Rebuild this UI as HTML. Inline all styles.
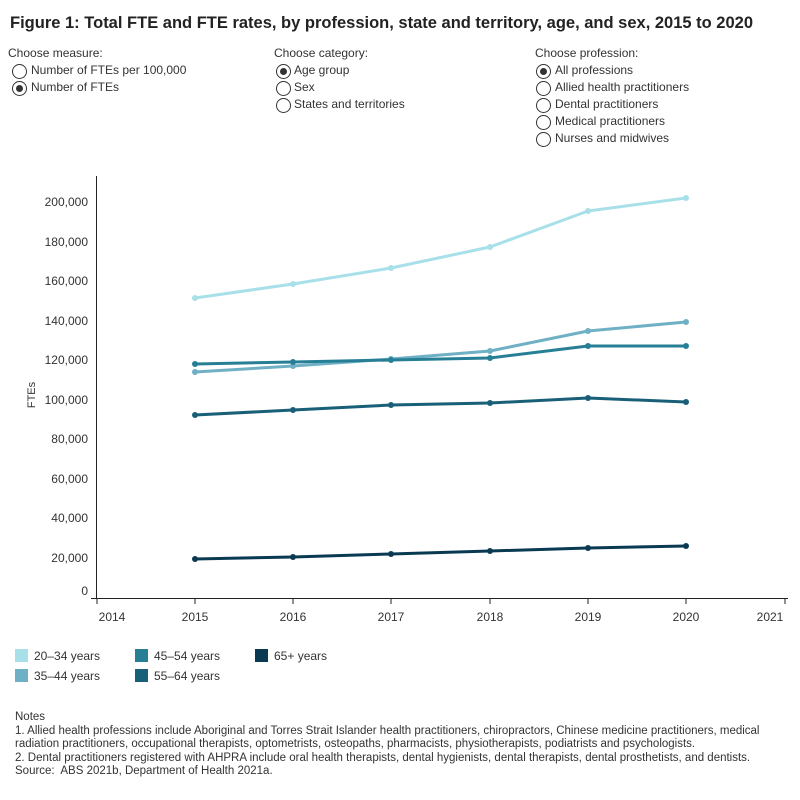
<!DOCTYPE html><html><head><style>
body{margin:0;width:800px;height:800px;background:#fff;font-family:"Liberation Sans",sans-serif;color:#333;position:relative;overflow:hidden}
.t{position:absolute;white-space:nowrap}
.r{position:absolute;width:15px;height:15px;border:1px solid #333;border-radius:50%;box-sizing:border-box;background:#fff}
.r.on::after{content:"";position:absolute;left:3px;top:3px;width:7px;height:7px;border-radius:50%;background:#333}
.s{position:absolute;width:13px;height:13px}
</style></head><body>
<div class="t" style="left:10px;top:14px;font-size:16.5px;font-weight:bold;color:#222">Figure 1: Total FTE and FTE rates, by profession, state and territory, age, and sex, 2015 to 2020</div>
<div class="t" style="left:8px;top:46px;font-size:12px">Choose measure:</div>
<div class="r" style="left:12px;top:64px"></div><div class="t" style="left:31px;top:63px;font-size:12px">Number of FTEs per 100,000</div>
<div class="r on" style="left:12px;top:81px"></div><div class="t" style="left:31px;top:80px;font-size:12px">Number of FTEs</div>
<div class="t" style="left:274px;top:46px;font-size:12px">Choose category:</div>
<div class="r on" style="left:276px;top:64px"></div><div class="t" style="left:294px;top:63px;font-size:12px">Age group</div>
<div class="r" style="left:276px;top:81px"></div><div class="t" style="left:294px;top:80px;font-size:12px">Sex</div>
<div class="r" style="left:276px;top:98px"></div><div class="t" style="left:294px;top:97px;font-size:12px">States and territories</div>
<div class="t" style="left:535px;top:46px;font-size:12px">Choose profession:</div>
<div class="r on" style="left:536px;top:64px"></div><div class="t" style="left:555px;top:63px;font-size:12px">All professions</div>
<div class="r" style="left:536px;top:81px"></div><div class="t" style="left:555px;top:80px;font-size:12px">Allied health practitioners</div>
<div class="r" style="left:536px;top:98px"></div><div class="t" style="left:555px;top:97px;font-size:12px">Dental practitioners</div>
<div class="r" style="left:536px;top:115px"></div><div class="t" style="left:555px;top:114px;font-size:12px">Medical practitioners</div>
<div class="r" style="left:536px;top:132px"></div><div class="t" style="left:555px;top:131px;font-size:12px">Nurses and midwives</div>
<svg width="800" height="800" style="position:absolute;left:0;top:0" font-family="Liberation Sans,sans-serif" font-size="12" fill="#333">
<g text-anchor="end">
<text x="88" y="595">0</text><text x="88" y="562">20,000</text><text x="88" y="522">40,000</text><text x="88" y="483">60,000</text><text x="88" y="443">80,000</text><text x="88" y="404">100,000</text><text x="88" y="364">120,000</text><text x="88" y="325">140,000</text><text x="88" y="285">160,000</text><text x="88" y="246">180,000</text><text x="88" y="206">200,000</text>
</g>
<text transform="translate(35,395) rotate(-90)" text-anchor="middle" font-size="11">FTEs</text>
<line x1="96.5" y1="176" x2="96.5" y2="598" stroke="#222"/>
<line x1="91" y1="598.5" x2="788" y2="598.5" stroke="#222"/>
<g stroke="#222"><line x1="97" y1="598" x2="97" y2="604"/><line x1="195" y1="598" x2="195" y2="604"/><line x1="293" y1="598" x2="293" y2="604"/><line x1="391" y1="598" x2="391" y2="604"/><line x1="490" y1="598" x2="490" y2="604"/><line x1="588" y1="598" x2="588" y2="604"/><line x1="686" y1="598" x2="686" y2="604"/><line x1="785" y1="598" x2="785" y2="604"/></g>
<g text-anchor="middle"><text x="112" y="621">2014</text><text x="195" y="621">2015</text><text x="293" y="621">2016</text><text x="391" y="621">2017</text><text x="490" y="621">2018</text><text x="588" y="621">2019</text><text x="686" y="621">2020</text><text x="770" y="621">2021</text></g>
<g fill="none" stroke-width="3" stroke-linejoin="round">
<polyline stroke="#a8e0ea" points="195,298 293,284 391,268 490,247 588,211 686,198"/>
<polyline stroke="#6fb0c4" points="195,372 293,366 391,359 490,351 588,331 686,322"/>
<polyline stroke="#277f96" points="195,364 293,362 391,360 490,358 588,346 686,346"/>
<polyline stroke="#1a5f78" points="195,415 293,410 391,405 490,403 588,398 686,402"/>
<polyline stroke="#0a3a52" points="195,559 293,557 391,554 490,551 588,548 686,546"/>
</g>
<g fill="#a8e0ea"><circle cx="195" cy="298" r="3"/><circle cx="293" cy="284" r="3"/><circle cx="391" cy="268" r="3"/><circle cx="490" cy="247" r="3"/><circle cx="588" cy="211" r="3"/><circle cx="686" cy="198" r="3"/></g>
<g fill="#6fb0c4"><circle cx="195" cy="372" r="3"/><circle cx="293" cy="366" r="3"/><circle cx="391" cy="359" r="3"/><circle cx="490" cy="351" r="3"/><circle cx="588" cy="331" r="3"/><circle cx="686" cy="322" r="3"/></g>
<g fill="#277f96"><circle cx="195" cy="364" r="3"/><circle cx="293" cy="362" r="3"/><circle cx="391" cy="360" r="3"/><circle cx="490" cy="358" r="3"/><circle cx="588" cy="346" r="3"/><circle cx="686" cy="346" r="3"/></g>
<g fill="#1a5f78"><circle cx="195" cy="415" r="3"/><circle cx="293" cy="410" r="3"/><circle cx="391" cy="405" r="3"/><circle cx="490" cy="403" r="3"/><circle cx="588" cy="398" r="3"/><circle cx="686" cy="402" r="3"/></g>
<g fill="#0a3a52"><circle cx="195" cy="559" r="3"/><circle cx="293" cy="557" r="3"/><circle cx="391" cy="554" r="3"/><circle cx="490" cy="551" r="3"/><circle cx="588" cy="548" r="3"/><circle cx="686" cy="546" r="3"/></g>
</svg>
<div class="s" style="left:15px;top:649px;background:#a8e0ea"></div><div class="t" style="left:34px;top:649px;font-size:12px">20–34 years</div>
<div class="s" style="left:15px;top:669px;background:#6fb0c4"></div><div class="t" style="left:34px;top:669px;font-size:12px">35–44 years</div>
<div class="s" style="left:135px;top:649px;background:#277f96"></div><div class="t" style="left:154px;top:649px;font-size:12px">45–54 years</div>
<div class="s" style="left:135px;top:669px;background:#1a5f78"></div><div class="t" style="left:154px;top:669px;font-size:12px">55–64 years</div>
<div class="s" style="left:255px;top:649px;background:#0a3a52"></div><div class="t" style="left:274px;top:649px;font-size:12px">65+ years</div>
<div class="t" style="left:15px;top:711px;font-size:11.5px;line-height:13.5px;color:#333">Notes<br>1. Allied health professions include Aboriginal and Torres Strait Islander health practitioners, chiropractors, Chinese medicine practitioners, medical<br>radiation practitioners, occupational therapists, optometrists, osteopaths, pharmacists, physiotherapists, podiatrists and psychologists.<br>2. Dental practitioners registered with AHPRA include oral health therapists, dental hygienists, dental therapists, dental prosthetists, and dentists.<br>Source:&nbsp; ABS 2021b, Department of Health 2021a.</div>
</body></html>
